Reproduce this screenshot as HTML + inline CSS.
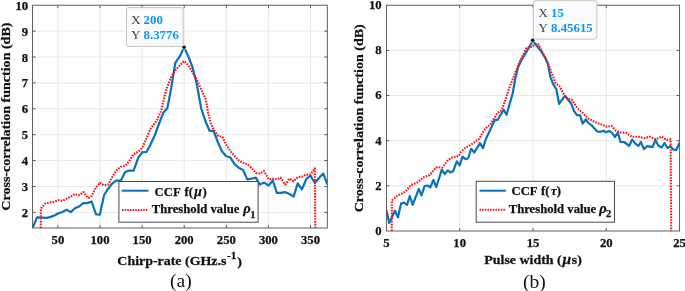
<!DOCTYPE html>
<html lang="en"><head><meta charset="utf-8"><title>Cross-correlation function plots</title>
<style>html,body{margin:0;padding:0;background:#fff;}body{width:685px;height:291px;overflow:hidden;}svg{display:block;}text{font-family:'Liberation Serif','Times New Roman',serif;}.b{font-weight:bold;fill:#111;stroke:#111;stroke-width:0.25;}.tk{font-size:12.7px;font-weight:bold;fill:#111;stroke:#111;stroke-width:0.25;}.grid line{stroke:#e6e6e6;stroke-width:0.9;}.frame{fill:none;stroke:#444;stroke-width:0.85;}.ticks line{stroke:#444;stroke-width:0.85;}.blue{fill:none;stroke:#0a72bd;stroke-width:2.2;stroke-linejoin:round;}.red{fill:none;stroke:#ff1010;stroke-width:2.1;stroke-dasharray:1.6 1.2;stroke-linejoin:round;}.leg{fill:#fff;stroke:#4a4a4a;stroke-width:1;}.tip{fill:#fbfbff;stroke:#c2c2c2;stroke-width:1;}.tl{font-size:12.8px;fill:#3c3c3c;}.tv{font-size:12.8px;font-weight:bold;fill:#0c96f5;}</style></head><body>
<svg width="685" height="291" viewBox="0 0 685 291">
<rect x="0" y="0" width="685" height="291" fill="#fff"/>
<clipPath id="cl"><rect x="32.6" y="5.2" width="294.7" height="222.8"/></clipPath>
<g class="grid">
<line x1="57.9" y1="5.2" x2="57.9" y2="228.0"/>
<line x1="100.0" y1="5.2" x2="100.0" y2="228.0"/>
<line x1="142.1" y1="5.2" x2="142.1" y2="228.0"/>
<line x1="184.2" y1="5.2" x2="184.2" y2="228.0"/>
<line x1="226.3" y1="5.2" x2="226.3" y2="228.0"/>
<line x1="268.4" y1="5.2" x2="268.4" y2="228.0"/>
<line x1="310.5" y1="5.2" x2="310.5" y2="228.0"/>
<line x1="32.6" y1="212.4" x2="327.3" y2="212.4"/>
<line x1="32.6" y1="186.5" x2="327.3" y2="186.5"/>
<line x1="32.6" y1="160.6" x2="327.3" y2="160.6"/>
<line x1="32.6" y1="134.7" x2="327.3" y2="134.7"/>
<line x1="32.6" y1="108.8" x2="327.3" y2="108.8"/>
<line x1="32.6" y1="82.9" x2="327.3" y2="82.9"/>
<line x1="32.6" y1="57.0" x2="327.3" y2="57.0"/>
<line x1="32.6" y1="31.1" x2="327.3" y2="31.1"/>
</g>
<g clip-path="url(#cl)">
<polyline class="blue" points="32.8,227.6 37.0,217.4 41.6,217.6 46.6,217.8 50.8,216.9 55.0,215.3 58.3,213.3 62.5,212.0 66.6,209.8 70.8,212.1 74.9,208.3 79.1,206.5 83.3,203.1 87.4,203.1 91.6,201.5 96.1,214.5 99.9,214.6 104.1,195.0 108.2,188.7 112.4,183.3 116.6,180.3 120.8,180.9 124.9,172.3 129.1,170.6 133.6,170.6 138.3,157.6 142.4,152.1 146.6,151.8 150.5,144.5 154.7,135.5 158.9,124.0 163.3,112.8 167.4,108.0 171.2,88.0 175.3,62.8 179.9,56.1 184.1,47.3 188.2,56.1 192.4,67.0 196.8,84.0 201.2,108.5 205.5,121.3 209.5,130.8 213.4,130.6 218.0,142.5 222.1,151.6 226.3,156.3 230.2,157.3 234.8,164.4 239.0,167.9 243.1,170.0 247.3,179.4 251.6,178.6 255.8,177.6 259.9,184.6 264.1,182.6 268.6,185.5 272.8,180.5 276.9,192.9 281.1,192.9 284.9,192.1 289.1,193.8 293.6,196.6 297.7,183.3 301.9,189.3 306.5,178.8 310.4,175.5 314.9,183.0 319.0,178.0 323.2,173.5 327.3,184.3"/>
<polyline class="red" points="40.7,228.0 40.9,208.6 45.0,203.6 50.8,202.3 55.0,201.5 58.3,200.3 62.5,200.8 66.6,198.6 70.8,196.6 74.9,194.0 79.1,195.3 83.3,192.0 88.2,198.1 91.6,196.1 95.7,187.8 99.9,182.8 104.1,185.3 108.2,184.5 112.6,176.5 116.6,170.1 120.8,166.8 124.9,166.0 129.4,161.0 133.6,154.0 138.3,151.8 142.4,147.6 146.6,137.9 150.8,128.3 156.6,120.8 160.8,111.6 165.8,91.0 170.8,77.8 175.3,70.3 179.9,65.3 184.1,61.1 188.2,65.3 192.4,72.0 196.6,79.4 201.6,90.0 205.7,99.5 208.2,113.0 210.7,123.3 214.6,131.2 218.3,136.0 222.5,137.0 226.6,145.8 230.8,151.6 235.0,156.3 239.1,160.8 243.3,162.8 247.4,164.3 251.6,168.0 255.8,173.0 259.9,173.5 264.1,171.0 268.6,179.3 272.8,178.8 276.9,179.3 280.7,177.6 285.2,184.6 289.4,178.5 293.6,181.3 297.7,177.1 301.9,176.8 306.0,174.6 310.4,174.6 314.9,168.3 315.3,228.0"/>
</g>
<g class="ticks">
<line x1="57.9" y1="228.0" x2="57.9" y2="225.0"/><line x1="57.9" y1="5.2" x2="57.9" y2="8.2"/>
<line x1="100.0" y1="228.0" x2="100.0" y2="225.0"/><line x1="100.0" y1="5.2" x2="100.0" y2="8.2"/>
<line x1="142.1" y1="228.0" x2="142.1" y2="225.0"/><line x1="142.1" y1="5.2" x2="142.1" y2="8.2"/>
<line x1="184.2" y1="228.0" x2="184.2" y2="225.0"/><line x1="184.2" y1="5.2" x2="184.2" y2="8.2"/>
<line x1="226.3" y1="228.0" x2="226.3" y2="225.0"/><line x1="226.3" y1="5.2" x2="226.3" y2="8.2"/>
<line x1="268.4" y1="228.0" x2="268.4" y2="225.0"/><line x1="268.4" y1="5.2" x2="268.4" y2="8.2"/>
<line x1="310.5" y1="228.0" x2="310.5" y2="225.0"/><line x1="310.5" y1="5.2" x2="310.5" y2="8.2"/>
<line x1="32.6" y1="212.4" x2="35.6" y2="212.4"/><line x1="327.3" y1="212.4" x2="324.3" y2="212.4"/>
<line x1="32.6" y1="186.5" x2="35.6" y2="186.5"/><line x1="327.3" y1="186.5" x2="324.3" y2="186.5"/>
<line x1="32.6" y1="160.6" x2="35.6" y2="160.6"/><line x1="327.3" y1="160.6" x2="324.3" y2="160.6"/>
<line x1="32.6" y1="134.7" x2="35.6" y2="134.7"/><line x1="327.3" y1="134.7" x2="324.3" y2="134.7"/>
<line x1="32.6" y1="108.8" x2="35.6" y2="108.8"/><line x1="327.3" y1="108.8" x2="324.3" y2="108.8"/>
<line x1="32.6" y1="82.9" x2="35.6" y2="82.9"/><line x1="327.3" y1="82.9" x2="324.3" y2="82.9"/>
<line x1="32.6" y1="57.0" x2="35.6" y2="57.0"/><line x1="327.3" y1="57.0" x2="324.3" y2="57.0"/>
<line x1="32.6" y1="31.1" x2="35.6" y2="31.1"/><line x1="327.3" y1="31.1" x2="324.3" y2="31.1"/>
</g>
<rect class="frame" x="32.6" y="5.2" width="294.7" height="222.8"/>
<text class="tk" x="57.9" y="243.9" text-anchor="middle">50</text>
<text class="tk" x="100.0" y="243.9" text-anchor="middle">100</text>
<text class="tk" x="142.1" y="243.9" text-anchor="middle">150</text>
<text class="tk" x="184.2" y="243.9" text-anchor="middle">200</text>
<text class="tk" x="226.3" y="243.9" text-anchor="middle">250</text>
<text class="tk" x="268.4" y="243.9" text-anchor="middle">300</text>
<text class="tk" x="310.5" y="243.9" text-anchor="middle">350</text>
<text class="tk" x="28.2" y="216.9" text-anchor="end">2</text>
<text class="tk" x="28.2" y="191.0" text-anchor="end">3</text>
<text class="tk" x="28.2" y="165.1" text-anchor="end">4</text>
<text class="tk" x="28.2" y="139.2" text-anchor="end">5</text>
<text class="tk" x="28.2" y="113.3" text-anchor="end">6</text>
<text class="tk" x="28.2" y="87.4" text-anchor="end">7</text>
<text class="tk" x="28.2" y="61.5" text-anchor="end">8</text>
<text class="tk" x="28.2" y="35.6" text-anchor="end">9</text>
<text class="tk" x="28.2" y="9.7" text-anchor="end">10</text>
<text class="b" font-size="13.5" text-anchor="middle" transform="translate(10.2,116.6) rotate(-90) scale(1.04,1)">Cross-correlation function (dB)</text>
<text class="b" font-size="13.4" transform="translate(179.6,265.2) scale(1.04,1)" text-anchor="middle">Chirp-rate (GHz.s<tspan font-size="11" dy="-6.6" dx="0.6">-1</tspan><tspan dy="7.2" dx="0.6">)</tspan></text>
<text font-size="19.5" x="180.9" y="286.9" text-anchor="middle" fill="#111">(a)</text>
<rect class="leg" x="118.9" y="181.5" width="139.2" height="40.7"/>
<line x1="121.7" y1="190.7" x2="148.5" y2="190.7" stroke="#0a72bd" stroke-width="2"/>
<line x1="122" y1="210.1" x2="148.5" y2="210.1" stroke="#ff1010" stroke-width="2" stroke-dasharray="1.5 1.15"/>
<text class="b" font-size="12.7" x="154.6" y="195.6">CCF<tspan dx="1.2"> f(</tspan><tspan font-style="italic" font-size="13.6" dx="1.2">μ</tspan><tspan dx="0.6">)</tspan></text>
<text class="b" font-size="12.7" x="151.8" y="213.1">Threshold value <tspan font-style="italic" font-size="14.5" dx="0.8">ρ</tspan><tspan font-size="10.5" dy="4.6" dx="-0.6">1</tspan></text>
<rect class="tip" x="126.5" y="7.6" width="56.7" height="38.8" rx="2" ry="2"/>
<text class="tl" x="131.2" y="23.7">X</text><text class="tv" x="143.6" y="23.7">200</text>
<text class="tl" x="131.2" y="38.8">Y</text><text class="tv" x="143.6" y="38.8">8.3776</text>
<circle cx="184.1" cy="47.3" r="2.4" fill="#f4f0d8"/><circle cx="184.1" cy="47.3" r="1.8" fill="#111"/>
<clipPath id="cr"><rect x="386.4" y="5.2" width="293.2" height="225.8"/></clipPath>
<g class="grid">
<line x1="459.7" y1="5.2" x2="459.7" y2="231.0"/>
<line x1="533.0" y1="5.2" x2="533.0" y2="231.0"/>
<line x1="606.3" y1="5.2" x2="606.3" y2="231.0"/>
<line x1="386.4" y1="185.8" x2="679.6" y2="185.8"/>
<line x1="386.4" y1="140.7" x2="679.6" y2="140.7"/>
<line x1="386.4" y1="95.5" x2="679.6" y2="95.5"/>
<line x1="386.4" y1="50.4" x2="679.6" y2="50.4"/>
</g>
<g clip-path="url(#cr)">
<polyline class="blue" points="386.4,210.3 389.2,223.1 392.3,216.5 395.0,210.7 397.9,217.4 401.1,203.5 404.0,202.6 407.0,204.8 409.8,196.0 412.7,204.8 415.7,197.0 418.8,189.0 421.5,195.3 424.6,186.0 427.5,185.5 430.3,187.4 433.4,180.0 436.3,187.0 439.2,178.0 441.8,169.6 444.8,174.1 447.7,170.3 450.7,172.5 453.3,170.8 456.7,161.3 459.7,165.3 462.5,156.7 465.5,159.2 468.2,158.3 471.1,148.8 474.3,152.5 477.3,147.5 480.0,143.1 483.0,148.1 485.9,138.9 489.0,132.5 492.0,126.0 494.9,119.8 497.7,119.8 500.8,114.5 503.7,109.8 506.6,114.8 509.6,104.0 512.6,93.8 515.4,78.0 518.1,67.0 521.3,60.4 524.2,55.5 527.1,50.6 530.1,45.7 532.8,40.4 535.6,44.3 538.9,48.5 541.6,52.0 544.7,57.0 547.8,63.6 550.5,77.3 553.2,84.2 556.2,88.8 559.1,103.8 562.2,99.5 565.0,95.8 568.4,100.2 571.1,103.3 574.1,111.1 577.1,115.3 580.0,115.0 582.7,123.6 585.7,119.4 588.5,123.0 591.7,125.5 594.5,128.5 597.3,131.4 600.0,132.0 603.2,130.7 606.1,132.2 609.0,131.0 611.8,132.6 615.0,137.0 617.8,132.4 620.5,142.0 624.3,142.1 626.8,144.0 629.2,145.8 632.2,139.6 635.1,143.3 638.4,145.8 640.9,142.0 643.9,149.1 647.2,146.1 650.0,146.6 652.5,147.1 655.5,140.0 658.4,145.8 661.7,147.5 664.5,143.0 667.5,148.0 670.3,146.3 673.3,149.6 676.2,150.0 679.5,143.0"/>
<polyline class="red" points="391.7,231.0 391.9,200.3 397.3,195.7 400.6,194.1 405.6,191.6 410.6,185.3 417.3,182.5 423.1,177.5 429.8,175.0 433.9,169.6 437.3,167.1 442.2,167.5 448.1,160.0 452.2,157.5 458.9,155.8 461.0,152.0 465.0,148.1 470.8,144.8 479.1,138.9 484.9,129.0 489.9,124.8 497.4,113.2 501.6,110.3 503.6,105.0 509.6,87.1 519.6,61.9 522.5,56.0 526.3,48.1 532.6,46.5 535.4,44.0 538.7,44.5 542.1,51.4 547.9,62.8 555.4,83.0 559.5,86.3 564.0,94.6 567.8,99.0 571.8,99.6 576.5,107.0 582.5,112.8 588.5,118.8 594.9,122.0 600.0,123.9 606.8,126.7 611.8,126.0 616.0,130.7 620.8,132.6 625.8,132.7 631.7,136.8 638.7,136.8 644.5,138.1 649.5,136.7 655.8,139.3 661.6,136.6 666.6,140.0 670.6,139.3 671.2,231.0"/>
</g>
<g class="ticks">
<line x1="459.7" y1="231.0" x2="459.7" y2="228.0"/><line x1="459.7" y1="5.2" x2="459.7" y2="8.2"/>
<line x1="533.0" y1="231.0" x2="533.0" y2="228.0"/><line x1="533.0" y1="5.2" x2="533.0" y2="8.2"/>
<line x1="606.3" y1="231.0" x2="606.3" y2="228.0"/><line x1="606.3" y1="5.2" x2="606.3" y2="8.2"/>
<line x1="386.4" y1="185.8" x2="389.4" y2="185.8"/><line x1="679.6" y1="185.8" x2="676.6" y2="185.8"/>
<line x1="386.4" y1="140.7" x2="389.4" y2="140.7"/><line x1="679.6" y1="140.7" x2="676.6" y2="140.7"/>
<line x1="386.4" y1="95.5" x2="389.4" y2="95.5"/><line x1="679.6" y1="95.5" x2="676.6" y2="95.5"/>
<line x1="386.4" y1="50.4" x2="389.4" y2="50.4"/><line x1="679.6" y1="50.4" x2="676.6" y2="50.4"/>
</g>
<rect class="frame" x="386.4" y="5.2" width="293.2" height="225.8"/>
<text class="tk" x="386.4" y="247.0" text-anchor="middle">5</text>
<text class="tk" x="459.7" y="247.0" text-anchor="middle">10</text>
<text class="tk" x="533.0" y="247.0" text-anchor="middle">15</text>
<text class="tk" x="606.3" y="247.0" text-anchor="middle">20</text>
<text class="tk" x="679.6" y="247.0" text-anchor="middle">25</text>
<text class="tk" x="381.6" y="234.9" text-anchor="end">0</text>
<text class="tk" x="381.6" y="189.7" text-anchor="end">2</text>
<text class="tk" x="381.6" y="144.6" text-anchor="end">4</text>
<text class="tk" x="381.6" y="99.4" text-anchor="end">6</text>
<text class="tk" x="381.6" y="54.3" text-anchor="end">8</text>
<text class="tk" x="381.6" y="9.1" text-anchor="end">10</text>
<text class="b" font-size="13.5" text-anchor="middle" transform="translate(362.8,118.3) rotate(-90) scale(1.04,1)">Cross-correlation function (dB)</text>
<text class="b" font-size="13.4" transform="translate(533.1,263.5) scale(1.04,1)" text-anchor="middle">Pulse width (<tspan font-style="italic" font-size="15" dx="0.8">μ</tspan><tspan dx="0.6">s)</tspan></text>
<text font-size="19.5" x="534.4" y="287.6" text-anchor="middle" fill="#111">(b)</text>
<rect class="leg" x="476.2" y="181.3" width="138.3" height="40.9"/>
<line x1="479.5" y1="190.7" x2="505.9" y2="190.7" stroke="#0a72bd" stroke-width="2"/>
<line x1="479.5" y1="209.8" x2="505.9" y2="209.8" stroke="#ff1010" stroke-width="2" stroke-dasharray="1.5 1.15"/>
<text class="b" font-size="12.7" x="511.5" y="195.3">CCF<tspan dx="0.8"> f(</tspan><tspan font-style="italic" font-size="12.6" dx="1.4">τ</tspan><tspan dx="0.3">)</tspan></text>
<text class="b" font-size="12.7" x="508.7" y="212.8">Threshold value <tspan font-style="italic" font-size="14.5" dx="-0.2">ρ</tspan><tspan font-size="10.5" dy="4.6" dx="-0.6">2</tspan></text>
<rect class="tip" x="533.4" y="0.7" width="63.5" height="38.4" rx="2.2" ry="2.2"/>
<text class="tl" x="538.4" y="17.3">X</text><text class="tv" x="551.1" y="17.3">15</text>
<text class="tl" x="538.4" y="32.3">Y</text><text class="tv" x="551.1" y="32.3">8.45615</text>
<circle cx="532.7" cy="40.2" r="2.4" fill="#f4f0d8"/><circle cx="532.7" cy="40.2" r="1.8" fill="#111"/>
</svg></body></html>
